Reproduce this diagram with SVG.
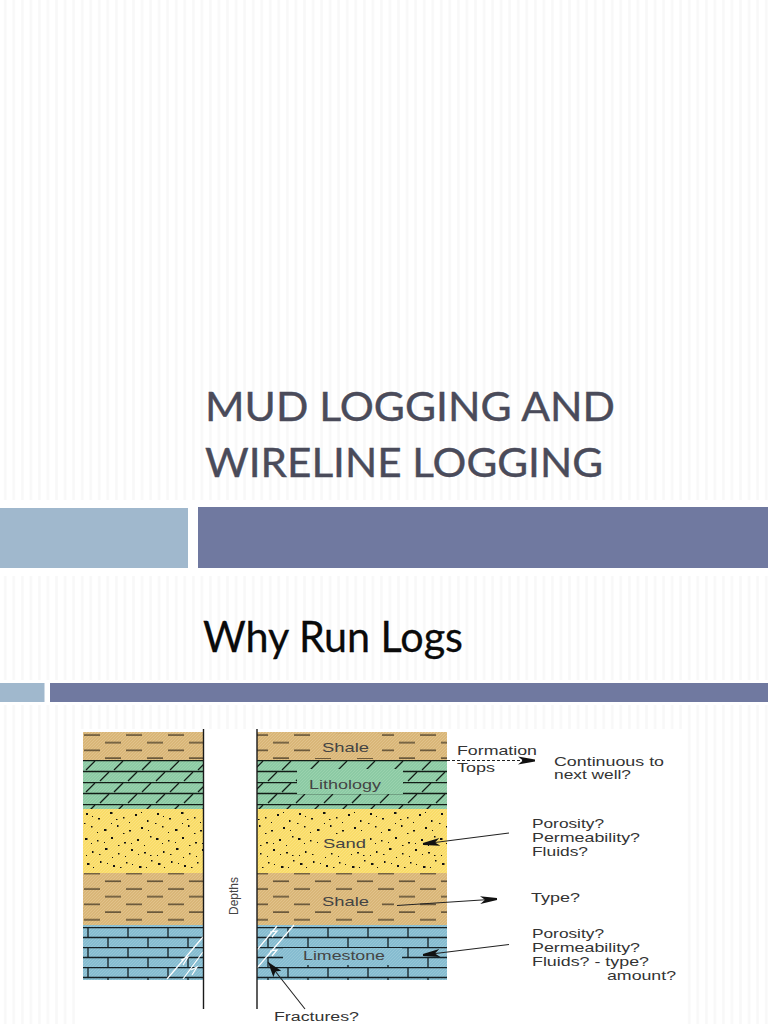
<svg xmlns="http://www.w3.org/2000/svg" width="768" height="1024" viewBox="0 0 768 1024">
<style>
.t{font-family:"Liberation Sans",Arial,sans-serif;font-size:13.5px;fill:#333}
.l{font-family:"Liberation Sans",Arial,sans-serif;font-size:13.5px;fill:#444}
.h{font-family:Lato,"Noto Sans",sans-serif;font-size:41px;fill:#4a4b5a;stroke:#4a4b5a;stroke-width:.4}
.c{stroke:#222;stroke-width:1.1;fill:none}
.w{stroke:#1a1a1a;stroke-width:1.4;fill:none}
.f{stroke:#fff;stroke-width:1.2;fill:none}
</style>
<defs>
<pattern id="stripes" patternUnits="userSpaceOnUse" width="8.55" height="20"><rect width="8.55" height="20" fill="#fff"/><rect x="4" width="2.500" height="20" fill="#f8f8f8"/></pattern>
<pattern id="hs" patternUnits="userSpaceOnUse" width="3" height="3"><rect width="3" height="3" fill="#d9b678"/><path d="M0 3L3 0" stroke="#e6c998" stroke-width=".6"/></pattern>
<pattern id="hg" patternUnits="userSpaceOnUse" width="3" height="3"><rect width="3" height="3" fill="#8ccaa4"/><path d="M0 3L3 0" stroke="#a2d6b6" stroke-width=".6"/></pattern>
<pattern id="hy" patternUnits="userSpaceOnUse" width="3" height="3"><rect width="3" height="3" fill="#f9dc68"/><path d="M0 3L3 0" stroke="#fbe68f" stroke-width=".6"/></pattern>
<pattern id="hb" patternUnits="userSpaceOnUse" width="3" height="3"><rect width="3" height="3" fill="#86bcd0"/><path d="M0 3L3 0" stroke="#a0cddc" stroke-width=".6"/></pattern>
<pattern id="pshale" patternUnits="userSpaceOnUse" x="83" y="731" width="42" height="15.4"><path d="M1 4H17M22 11.700H38" stroke="#3a3020" stroke-width="1.100" fill="none"/></pattern>
<pattern id="plith" patternUnits="userSpaceOnUse" x="83" y="760" width="28" height="22"><path d="M0 .5H28M0 11.500H28" stroke="#121c16" stroke-width="1.300"/><path d="M3 10L12 1M17 21L26 12" stroke="#121c16" stroke-width="1.300" fill="none"/></pattern>
<pattern id="psand" patternUnits="userSpaceOnUse" x="83" y="809" width="71" height="63">
<g fill="#111"><rect x="3" y="4" width="2" height="2"/><rect x="15" y="9" width="2" height="1.500"/><rect x="27" y="3" width="2.500" height="2"/><rect x="40" y="8" width="1.500" height="1.500"/><rect x="52" y="5" width="2" height="2"/><rect x="64" y="11" width="1.500" height="2"/><rect x="8" y="17" width="1.500" height="1.500"/><rect x="21" y="20" width="2.500" height="2"/><rect x="34" y="16" width="1.500" height="2"/><rect x="46" y="21" width="2" height="1.500"/><rect x="58" y="18" width="2" height="2"/><rect x="2" y="29" width="2.500" height="2"/><rect x="14" y="31" width="1.500" height="1.500"/><rect x="28" y="28" width="2" height="2"/><rect x="41" y="33" width="2" height="1.500"/><rect x="54" y="30" width="2" height="2"/><rect x="67" y="27" width="1.500" height="1.500"/><rect x="9" y="42" width="1.500" height="2"/><rect x="22" y="39" width="2.500" height="2"/><rect x="35" y="44" width="1.500" height="1.500"/><rect x="48" y="40" width="2" height="2"/><rect x="61" y="43" width="2" height="1.500"/><rect x="4" y="54" width="2.500" height="2"/><rect x="17" y="52" width="1.500" height="2"/><rect x="30" y="56" width="2" height="2"/><rect x="43" y="53" width="1.500" height="1.500"/><rect x="56" y="57" width="2.500" height="2"/><rect x="68" y="51" width="1.500" height="1.500"/>
<rect x="9" y="7" width="1" height="1"/><rect x="33" y="10" width="1.500" height="1"/><rect x="46" y="13" width="1" height="1"/><rect x="58" y="3" width="1" height="1"/><rect x="1" y="14" width="1.500" height="1"/><rect x="14" y="23" width="1" height="1"/><rect x="28" y="14" width="1" height="1"/><rect x="40" y="24" width="1.500" height="1"/><rect x="65" y="21" width="1" height="1"/><rect x="8" y="34" width="1" height="1"/><rect x="21" y="33" width="1" height="1"/><rect x="35" y="36" width="1.500" height="1"/><rect x="48" y="34" width="1" height="1"/><rect x="61" y="36" width="1" height="1"/><rect x="3" y="46" width="1" height="1"/><rect x="16" y="45" width="1.500" height="1"/><rect x="29" y="48" width="1" height="1"/><rect x="42" y="47" width="1" height="1"/><rect x="55" y="45" width="1" height="1"/><rect x="67" y="46" width="1.500" height="1"/><rect x="10" y="58" width="1" height="1"/><rect x="24" y="54" width="1" height="1"/><rect x="37" y="58" width="1.500" height="1"/><rect x="49" y="55" width="1" height="1"/><rect x="63" y="58" width="1" height="1"/></g></pattern>
<pattern id="plime" patternUnits="userSpaceOnUse" x="68" y="927" width="40" height="20"><path d="M0 .5H40M0 10.500H40" stroke="#141f24" stroke-width="1.300"/><path d="M20 0V10M0 10V20M40 10V20" stroke="#141f24" stroke-width="1.300" fill="none"/></pattern>
<marker id="ah" markerUnits="userSpaceOnUse" markerWidth="18" markerHeight="9" refX="17" refY="4.500" orient="auto"><path d="M0 .5L17 3.500V5.500L0 8.500L5 4.500Z" fill="#111"/></marker>
<marker id="ah2" markerUnits="userSpaceOnUse" markerWidth="16" markerHeight="12" refX="15" refY="6" orient="auto"><path d="M0 1L15 6L0 11L3 6Z" fill="#111"/></marker>
</defs>
<rect width="768" height="1024" fill="#fff"/>
<rect y="0" width="768" height="500" fill="url(#stripes)"/>
<rect y="576" width="768" height="104" fill="url(#stripes)"/>
<rect y="705" width="768" height="319" fill="url(#stripes)"/>
<g id="banner-top"><rect x="0" y="508" width="188" height="60" fill="#a0b8cd"/><rect x="198" y="507" width="570" height="61" fill="#7079a0"/></g>
<g id="banner-lower"><rect x="0" y="683" width="44.500" height="19" fill="#a0b8cd"/><rect x="50" y="683" width="718" height="19" fill="#7079a0"/></g>
<g id="title"><text class="h" x="205" y="421" textLength="410" lengthAdjust="spacingAndGlyphs">MUD LOGGING AND</text><text class="h" x="205" y="477" textLength="398" lengthAdjust="spacingAndGlyphs">WIRELINE LOGGING</text></g>
<g id="subtitle"><text x="203" y="652" font-family="Lato,'Noto Sans',sans-serif" font-size="42" fill="#0a0a0a" stroke="#0a0a0a" stroke-width=".3" textLength="260" lengthAdjust="spacingAndGlyphs">Why Run Logs</text></g>
<rect x="77" y="729" width="605" height="295" fill="#fff"/>
<g id="layer-shale-top">
<rect x="83" y="732" width="120" height="28" fill="url(#hs)"/><rect x="257" y="732" width="190" height="28" fill="url(#hs)"/>
<rect x="83" y="732" width="120" height="28" fill="url(#pshale)"/><rect x="257" y="732" width="190" height="28" fill="url(#pshale)"/>
<rect x="310" y="734" width="72" height="24" fill="url(#hs)"/>
<text class="l" x="322" y="752" textLength="47" lengthAdjust="spacingAndGlyphs">Shale</text></g>
<g id="layer-lithology">
<rect x="83" y="760" width="120" height="49" fill="url(#hg)"/><rect x="257" y="760" width="190" height="49" fill="url(#hg)"/>
<rect x="83" y="760" width="120" height="49" fill="url(#plith)"/><rect x="257" y="760" width="190" height="49" fill="url(#plith)"/>
<rect x="297" y="769" width="106" height="25" fill="url(#hg)"/>
<text class="l" x="309" y="789" textLength="72" lengthAdjust="spacingAndGlyphs">Lithology</text></g>
<g id="layer-sand">
<rect x="83" y="809" width="120" height="64" fill="url(#hy)"/><rect x="257" y="809" width="190" height="64" fill="url(#hy)"/>
<rect x="83" y="809" width="120" height="64" fill="url(#psand)"/><rect x="257" y="809" width="190" height="64" fill="url(#psand)"/>
<rect x="318" y="836" width="52" height="15" fill="url(#hy)"/>
<text class="l" x="323" y="848" textLength="43" lengthAdjust="spacingAndGlyphs">Sand</text></g>
<g id="layer-shale-lower">
<rect x="83" y="873" width="120" height="52" fill="url(#hs)"/><rect x="257" y="873" width="190" height="52" fill="url(#hs)"/>
<rect x="83" y="873" width="120" height="52" fill="url(#pshale)"/><rect x="257" y="873" width="190" height="52" fill="url(#pshale)"/>
<rect x="310" y="893" width="72" height="18" fill="url(#hs)"/>
<text class="l" x="322" y="906" textLength="47" lengthAdjust="spacingAndGlyphs">Shale</text></g>
<g id="layer-limestone">
<rect x="83" y="925" width="120" height="55" fill="url(#hb)"/><rect x="257" y="925" width="190" height="55" fill="url(#hb)"/>
<rect x="83" y="927" width="120" height="53" fill="url(#plime)"/><rect x="257" y="927" width="190" height="53" fill="url(#plime)"/>
<rect x="283" y="948" width="119" height="17" fill="url(#hb)"/>
<text class="l" x="303" y="957" textLength="82" lengthAdjust="spacingAndGlyphs" dy="3">Limestone</text></g>
<g id="fractures">
<path class="f" d="M203 937L167 979M203 952L183 979M181 960L188 957L183 965M191 970L197 967L192 975"/>
<path class="f" d="M277 926L257 950M294 925L257 968M270 932L277 931L272 937M270 951L277 950L272 956"/>
</g>
<g id="wellbore">
<path class="w" d="M203.500 729V1009M257 729V1009"/>
<text class="l" transform="translate(238 915) rotate(-90)" textLength="38" lengthAdjust="spacingAndGlyphs">Depths</text>
</g>
<g id="connectors">
<path class="c" stroke-dasharray="3 2" d="M447 760.500H535" marker-end="url(#ah)"/>
<path class="c" d="M509 833L423 844" marker-end="url(#ah)"/>
<path class="c" d="M397 905.500L497 899" marker-end="url(#ah)"/>
<path class="c" d="M509 944.500L423 955" marker-end="url(#ah)"/>
<path class="c" d="M305 1009L268 962" marker-end="url(#ah2)"/>
</g>
<g id="labels">
<text class="t" x="457" y="755" textLength="80" lengthAdjust="spacingAndGlyphs">Formation</text>
<text class="t" x="457" y="772" textLength="38" lengthAdjust="spacingAndGlyphs">Tops</text>
<text class="t" x="554" y="766" textLength="110" lengthAdjust="spacingAndGlyphs">Continuous to</text>
<text class="t" x="554" y="779" textLength="77" lengthAdjust="spacingAndGlyphs">next well?</text>
<text class="t" x="532" y="828" textLength="72" lengthAdjust="spacingAndGlyphs">Porosity?</text>
<text class="t" x="532" y="842" textLength="108" lengthAdjust="spacingAndGlyphs">Permeability?</text>
<text class="t" x="532" y="856" textLength="56" lengthAdjust="spacingAndGlyphs">Fluids?</text>
<text class="t" x="531" y="902" textLength="49" lengthAdjust="spacingAndGlyphs">Type?</text>
<text class="t" x="532" y="938" textLength="72" lengthAdjust="spacingAndGlyphs">Porosity?</text>
<text class="t" x="532" y="952" textLength="108" lengthAdjust="spacingAndGlyphs">Permeability?</text>
<text class="t" x="532" y="966" textLength="117" lengthAdjust="spacingAndGlyphs">Fluids? - type?</text>
<text class="t" x="607" y="980" textLength="69" lengthAdjust="spacingAndGlyphs">amount?</text>
<text x="274" y="1021" font-family="'Liberation Sans',Arial,sans-serif" font-size="12" fill="#333" textLength="85" lengthAdjust="spacingAndGlyphs">Fractures?</text>
</g>
</svg>
